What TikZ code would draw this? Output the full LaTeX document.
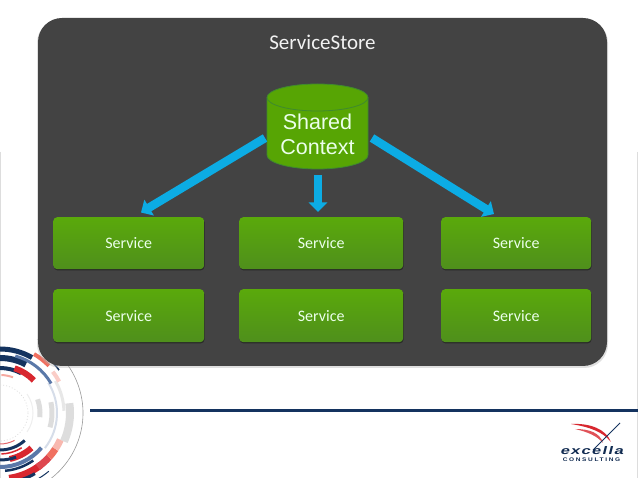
\documentclass[tikz,border=0pt]{standalone}
\usepackage{fontspec}
\setmainfont{Carlito}
\newfontfamily\arialf{Liberation Sans}
\newfontfamily\logof{Liberation Sans}[FakeSlant=0.25,FakeStretch=1.5,LetterSpace=12]
\newfontfamily\logos{Liberation Sans}[FakeStretch=1.25,LetterSpace=32]
\usetikzlibrary{arrows.meta,shadows,calc}
\definecolor{panelc}{HTML}{434343}
\definecolor{greent}{HTML}{5AA90B}
\definecolor{greenb}{HTML}{4F8F1C}
\definecolor{cylc}{HTML}{57A504}
\definecolor{cyline}{HTML}{3F8A2E}
\definecolor{arrowc}{HTML}{0CACE4}
\definecolor{navy}{HTML}{14335F}
\definecolor{redc}{HTML}{D8272F}
\definecolor{redl}{HTML}{F07060}
\definecolor{blu}{HTML}{5A78A8}
\definecolor{gry}{HTML}{DDDDDD}
\tikzset{
  x=1pt,y=-1pt,
  svc/.style={draw=none,rounded corners=4pt,top color=greent,bottom color=greenb,
    text=white!92!green,font=\fontsize{16}{18}\selectfont,anchor=north west,inner sep=0pt,
    drop shadow={shadow xshift=0.4pt,shadow yshift=-1.2pt,opacity=.4,fill=black}},
  flow/.style={line width=8.5pt,arrowc,-{Triangle[width=18pt,length=9.5pt]}},
  ring/.style={line width=#1,line cap=butt},
}
\newcommand{\svcbox}[6]{\node[svc,minimum width=#4pt,minimum height=#5pt] (#1) at (#2,#3) {#6};}
\newcommand{\ringarc}[5]{\draw[ring=#5,#4] ($(rc)+(-#1:#3)$) arc[start angle=-#1,end angle=-#2,radius=#3];}
\begin{document}
\begin{tikzpicture}
\useasboundingbox (0,0) rectangle (638,478);
\fill[white] (0,0) rectangle (638,478);
% edge lines
\draw[gry,line width=1pt] (0.5,152) -- (0.5,478);
\draw[gry,line width=1pt] (637.5,152) -- (637.5,478);
% ring decoration
\coordinate (rc) at (0,413);
\begin{scope}
\clip (0,340) rectangle (95,478);
% grey rings
\ringarc{66}{-70}{83}{black!40}{0.6pt}
\ringarc{8}{-24}{70}{gry}{8pt}
\ringarc{30}{2}{64}{gry!70}{3pt}
\ringarc{12}{-16}{52}{gry}{5pt}
\ringarc{20}{-6}{40}{gry}{5pt}
\ringarc{38}{28}{67}{redl!35}{4pt}
\ringarc{32}{-38}{57}{blu!25}{2pt}
\ringarc{35}{-35}{33}{gry!50}{1pt}
\draw[gry,line width=0.7pt,dash pattern=on 1pt off 2pt] (rc) circle[radius=28];
% top
\ringarc{90}{60}{64}{navy}{5pt}
\ringarc{60}{44}{68}{redl}{4pt}
\ringarc{50}{36}{73}{navy}{1.5pt}
\ringarc{90}{62}{55}{navy}{6pt}
\ringarc{75}{30}{59}{blu}{3pt}
\ringarc{90}{62}{45}{navy}{4pt}
\ringarc{72}{44}{47}{redc}{6pt}
\ringarc{88}{70}{38}{redl!60}{2pt}
% bottom
\ringarc{-90}{-62}{31}{redc!70}{1pt}
\ringarc{-90}{-48}{37}{navy}{3pt}
\ringarc{-88}{-58}{41}{redc}{1.5pt}
\ringarc{-78}{-48}{47}{redc}{6pt}
\ringarc{-90}{-70}{47}{navy}{3pt}
\ringarc{-90}{-40}{54}{blu}{4pt}
\ringarc{-85}{-55}{58}{navy}{2.5pt}
\ringarc{-82}{-52}{66}{redc}{7pt}
\ringarc{-55}{-42}{66}{redc!85!white}{7pt}
\ringarc{-42}{-33}{66}{redl}{7pt}
\ringarc{-33}{-24}{66}{redl!50}{7pt}
\ringarc{-82}{-60}{70}{navy}{3pt}
\ringarc{-62}{-50}{76}{navy}{1pt}
\end{scope}
% panel
\fill[black!30,opacity=.4,rounded corners=24pt] (37,19) rectangle (608,368);
\fill[panelc,rounded corners=24pt] (38,18) rectangle (607,366);
\node[text=white!95!black,font=\fontsize{21}{24}\selectfont,inner sep=0pt] (title) at (322.5,42) {ServiceStore};
% service boxes
\svcbox{s11}{53}{217}{151}{52}{Service}
\svcbox{s12}{239}{217}{164}{52}{Service}
\svcbox{s13}{441}{217}{150}{52}{Service}
\svcbox{s21}{53}{289}{151}{53}{Service}
\svcbox{s22}{239}{289}{164}{53}{Service}
\svcbox{s23}{441}{289}{150}{53}{Service}
% cylinder
\draw[cyline,line width=0.8pt,fill=cylc] (267,97.5) arc[start angle=180,end angle=360,x radius=50.5,y radius=13.5]
  -- (368,155) arc[start angle=0,end angle=180,x radius=50.5,y radius=14] -- cycle;
\draw[cyline,line width=0.8pt] (267,97.5) arc[start angle=180,end angle=0,x radius=50.5,y radius=13.5];
\node[text=white!92!green,font=\arialf\fontsize{21.5}{25}\selectfont,align=center,inner sep=0pt] (ctx) at (317.5,134) {Shared\\Context};
% connectors
\coordinate (al) at (265,138);
\coordinate (ac) at (318,175);
\coordinate (ar) at (372,138);
\coordinate (bl) at (141,212.5);
\coordinate (bc) at (318,212);
\coordinate (br) at (494,214);
\draw[flow] (al) -- (bl);
\draw[flow] (ac) -- (bc);
\draw[flow] (ar) -- (br);
% footer line
\coordinate (fa) at (90,411);
\coordinate (fb) at (638,411);
\draw[navy,line width=3pt] (fa) -- (fb);
% logo
\fill[redc] (571,424) .. controls (590,423) and (606,429) .. (611,442) .. controls (603,432) and (590,427) .. (571,424) -- cycle;
\fill[redc!80] (575,429) .. controls (590,429) and (600,433) .. (603,443) .. controls (597,436) and (588,432) .. (575,429) -- cycle;
\draw[navy,line width=0.9pt] (593,450) -- (620,423);
\node[text=navy!85!black,font=\logof\bfseries\fontsize{11}{11}\selectfont,inner sep=0pt] (lg1) at (591.5,451) {excella};
\node[text=navy!85!black,font=\logos\bfseries\fontsize{5.2}{6}\selectfont,inner sep=0pt] (lg2) at (591.5,460) {CONSULTING};
\end{tikzpicture}
\end{document}
